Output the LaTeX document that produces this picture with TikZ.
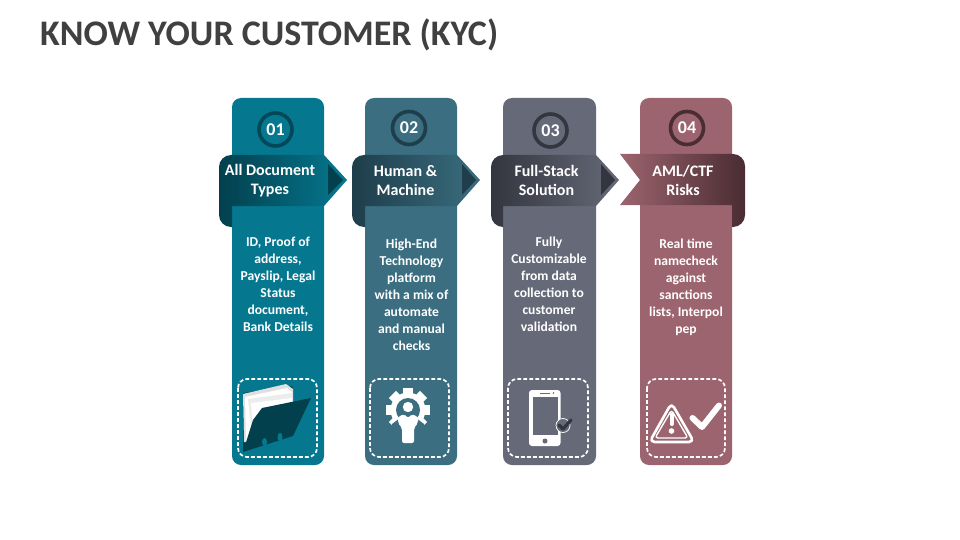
\documentclass[tikz,border=0pt]{standalone}
\usepackage{fontspec}
\setmainfont{Carlito}
\usepackage{xcolor}
\definecolor{cardA}{HTML}{05788F}
\definecolor{cardB}{HTML}{3A6E80}
\definecolor{cardC}{HTML}{666A78}
\definecolor{cardD}{HTML}{9C646E}
\definecolor{darkA}{HTML}{03404E}
\definecolor{darkB}{HTML}{1F3D4A}
\definecolor{darkC}{HTML}{33363F}
\definecolor{darkD}{HTML}{4A2C33}
\definecolor{titlegrey}{HTML}{404040}
\tikzset{
  numring/.style={shape=circle,draw,line width=3.6pt,minimum size=33pt,inner sep=0pt,text=white,font=\fontsize{18}{18}\selectfont\bfseries},
  headtext/.style={align=center,text=white,inner sep=0pt,font=\fontsize{16}{19}\selectfont\bfseries},
  bodytext/.style={align=center,text=white,inner sep=0pt,font=\fontsize{13.6}{17}\selectfont\bfseries},
  iconbox/.style={draw=white,line width=1.7pt,dash pattern=on 3.8pt off 2.2pt,rounded corners=9pt},
  whitetick/.style={draw=white,line width=6pt,line cap=round,line join=round},
}
\begin{document}
\begin{tikzpicture}[x=1pt,y=-1pt]
\useasboundingbox (0,0) rectangle (960,540);
\node[anchor=west,inner sep=0pt,text=titlegrey,font=\fontsize{36}{36}\selectfont\bfseries] (T) at (40,35) {KNOW YOUR CUSTOMER (KYC)};
% cards
\fill[cardA,rounded corners=9pt] (232,98) rectangle (324,465);
\fill[cardB,rounded corners=9pt] (365,98) rectangle (457,465);
\fill[cardC,rounded corners=9pt] (503,98) rectangle (596,465);
\fill[cardD,rounded corners=9pt] (640,98) rectangle (732,465);
% bands
\shade[left color=darkA,right color=cardA] (324,155) -- (347,180) -- (324,206) -- (232,206) -- (232,227) -- (231,227) [rounded corners=12pt] -- (219,227) -- (219,155) [sharp corners] -- cycle;
\shade[left color=darkB,right color=cardB] (457,155) -- (480,180) -- (457,206) -- (365,206) -- (365,227) -- (364,227) [rounded corners=12pt] -- (352,227) -- (352,155) [sharp corners] -- cycle;
\shade[left color=darkC,right color=cardC] (596,155) -- (619,180) -- (596,206) -- (503,206) -- (503,227) -- (502,227) [rounded corners=12pt] -- (491,227) -- (491,155) [sharp corners] -- cycle;
\shade[left color=cardD,right color=darkD] (620,154) -- (640,180) -- (620,205) -- (732,205) -- (732,227) -- (733,227) [rounded corners=12pt] -- (745,227) -- (745,154) [sharp corners] -- cycle;
\fill[darkA] (328,164) -- (343,180) -- (328,195) -- cycle;
\fill[darkB] (462,164) -- (476,180) -- (462,195) -- cycle;
\fill[darkC] (601,164) -- (615,180) -- (601,195) -- cycle;
% numbers
\node[numring,draw=darkA!85!cardA] (NA) at (275.5,129.5) {01};
\node[numring,draw=darkB] (NB) at (409,128) {02};
\node[numring,draw=darkC] (NC) at (550.5,130.5) {03};
\node[numring,draw=darkD] (ND) at (687,128) {04};
% headings
\node[headtext] (HA) at (270,181) {All Document\\Types};
\node[headtext] (HB) at (405.5,180.5) {Human \&\\Machine};
\node[headtext] (HC) at (546.5,180) {Full-Stack\\Solution};
\node[headtext] (HD) at (683,180.5) {AML/CTF\\Risks};
% texts
\node[bodytext] (BA) at (278,284) {ID, Proof of\\address,\\Payslip, Legal\\Status\\document,\\Bank Details};
\node[bodytext] (BB) at (411.5,294.5) {High-End\\Technology\\platform\\with a mix of\\automate\\and manual\\checks};
\node[bodytext] (BC) at (549,284) {Fully\\Customizable\\from data\\collection to\\customer\\validation};
\node[bodytext] (BD) at (686,287.5) {Real time\\namecheck\\against\\sanctions\\lists, Interpol\\pep};
% icon boxes
\draw[iconbox] (238,379) rectangle (317,457);
\draw[iconbox] (370,379) rectangle (449,457);
\draw[iconbox] (508,379) rectangle (588,457);
\draw[iconbox] (647,379) rectangle (725,457);
% folder
\fill[darkA] (243,393) -- (243,452) -- (262,420) -- (293,389) -- (292,386) -- cycle;
\fill[white!75!gray] (243,394) -- (286,384) -- (293,389) -- (293,404) -- (250,442) -- (244,442) -- cycle;
\fill[white] (245,397) -- (287,388) -- (292,392) -- (292,404) -- (250,442) -- (246,442) -- cycle;
\fill[white!85!gray] (248,399) -- (292,393) -- (292,404) -- (252,436) -- cycle;
\fill[white] (251,403) -- (292,398) -- (292,404) -- (253,430) -- cycle;
\fill[darkA] (243,452) -- (293,436) -- (311,398) -- (262,408) -- (253,420) -- cycle;
\fill[cardA] (264.5,442) ellipse (2.5 and 4);
\fill[cardA] (280,437) ellipse (2.5 and 4);
% gear and person
\fill[white] (408,410) circle (17.5);
\fill[white,rotate around={0:(408,410)}] (403,388) rectangle (413,432);
\fill[white,rotate around={45:(408,410)}] (403,388) rectangle (413,432);
\fill[white,rotate around={90:(408,410)}] (403,388) rectangle (413,432);
\fill[white,rotate around={135:(408,410)}] (403,388) rectangle (413,432);
\fill[cardB] (408,410) circle (12);
\fill[cardB] (392,444) -- (392,424) -- (408,412) -- (424,424) -- (424,444) -- cycle;
\fill[cardB] (408,407) circle (7.5);
\fill[white] (408,407) circle (5.2);
\fill[white,rounded corners=2pt] (398,423) -- (398,417) -- (404,414) -- (408,418) -- (412,414) -- (418,417) -- (418,423) -- (414,428) -- (414,443) -- (402,443) -- (402,428) -- cycle;
% phone
\fill[white,rounded corners=3pt] (529,390) rectangle (560.5,446);
\fill[cardC] (532.5,396.5) rectangle (557.5,435);
\fill[cardC] (545,441) circle (2.5);
\draw[cardC,line width=.8pt] (540,393) -- (550,393);
\fill[cardC] (553.5,393) circle (.8);
\draw[white,line width=.7pt,fill=cardC] (563,425.5) circle (7);
\draw[darkC,line width=3.2pt,line cap=round,line join=round] (559,425) -- (563,429) -- (571,420);
% warning and tick
\draw[white,line width=2.6pt,line join=round,rounded corners=5pt] (671.5,403) -- (694,442) -- (649.5,442) -- cycle;
\draw[white,line width=1.4pt,line join=round,rounded corners=3pt] (671.5,410) -- (688,438) -- (655,438) -- cycle;
\draw[white,line width=4pt,line cap=round] (671.5,414.5) -- (671.5,424);
\fill[white] (671.5,431) circle (2.8);
\draw[whitetick] (692.5,418) -- (702,427) -- (719,405.5);
\end{tikzpicture}
\end{document}
